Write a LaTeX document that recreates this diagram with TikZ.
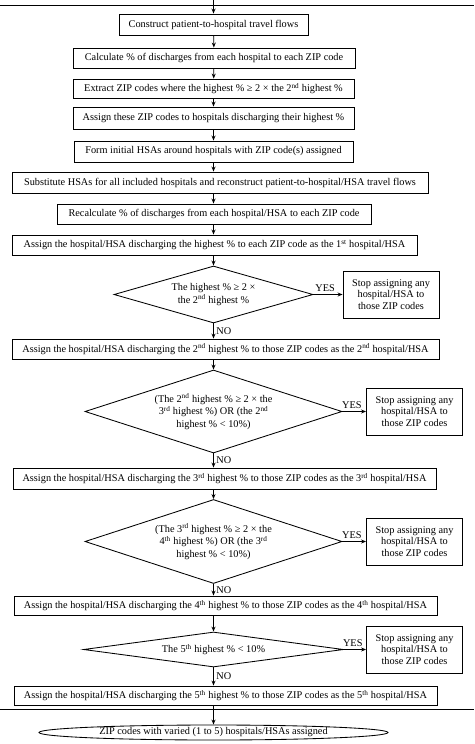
\documentclass[tikz,border=0pt]{standalone}
\usepackage{fontspec}
\setmainfont{Liberation Serif}
\usetikzlibrary{shapes.geometric,arrows.meta}
\begin{document}
\begin{tikzpicture}[x=1pt,y=-1pt,line width=0.85pt,>={Stealth[length=5pt,width=4pt]},
  every node/.append style={font=\fontsize{10.3}{12.5}\selectfont}]
   \tikzset{box/.style 2 args={draw, rectangle, inner sep=0pt, minimum width=#1, minimum height=#2},
     dia/.style 2 args={draw, diamond, align=center, inner sep=0pt, minimum width=#1, minimum height=#2},
     stopbox/.style={draw, align=center, inner sep=0pt, minimum width=96pt, minimum height=47pt, font=\fontsize{10.3}{11.8}\selectfont},
     lab/.style={inner sep=2.5pt}};
\useasboundingbox (0,0) rectangle (474,744);

\coordinate (top) at (213.5,0);
\draw (0,5) -- (474,5);
\draw (0,709) -- (474,709);

\node[box={189pt}{21pt}] (b1) at (213.5,24.5) {Construct patient-to-hospital travel flows};
\node[box={282pt}{20pt}] (b2) at (214,58) {Calculate \% of discharges from each hospital to each ZIP code};
\node[box={281pt}{19pt}] (b3) at (213.5,88.5) {Extract ZIP codes where the highest \% ≥ 2 × the 2\textsuperscript{nd} highest \%};
\node[box={281pt}{22pt}] (b4) at (213.5,118) {Assign these ZIP codes to hospitals discharging their highest \%};
\node[box={279pt}{21pt}] (b5) at (213.5,151.5) {Form initial HSAs around hospitals with ZIP code(s) assigned};
\node[box={416pt}{21pt}] (b6) at (220,182.5) {Substitute HSAs for all included hospitals and reconstruct patient-to-hospital/HSA travel flows};
\node[box={314pt}{20pt}] (b7) at (214,214) {Recalculate \% of discharges from each hospital/HSA to each ZIP code};
\node[box={405pt}{20pt}] (b8) at (214.5,245) {Assign the hospital/HSA discharging the highest \% to each ZIP code as the 1\textsuperscript{st} hospital/HSA};

\node[dia={199pt}{57pt},shape aspect=3] (d1) at (213.5,294.5) {The highest \% ≥ 2 ×\\the 2\textsuperscript{nd} highest \%};
\node[stopbox] (s1) at (391,294.5) {Stop assigning any\\hospital/HSA to\\those ZIP codes};
\node[box={427pt}{20pt}] (b9) at (225.5,349) {Assign the hospital/HSA discharging the 2\textsuperscript{nd} highest \% to those ZIP codes as the 2\textsuperscript{nd} hospital/HSA};

\node[dia={257pt}{83pt},shape aspect=3] (d2) at (213.5,411.5) {(The 2\textsuperscript{nd} highest \% ≥ 2 × the\\3\textsuperscript{rd} highest \%) OR (the 2\textsuperscript{nd}\\highest \% < 10\%)};
\node[stopbox] (s2) at (414.5,411.5) {Stop assigning any\\hospital/HSA to\\those ZIP codes};
\node[box={423pt}{21pt}] (b10) at (224.5,478.5) {Assign the hospital/HSA discharging the 3\textsuperscript{rd} highest \% to those ZIP codes as the 3\textsuperscript{rd} hospital/HSA};

\node[dia={257pt}{84pt},shape aspect=3] (d3) at (213.5,541.5) {(The 3\textsuperscript{rd} highest \% ≥ 2 × the\\4\textsuperscript{th} highest \%) OR (the 3\textsuperscript{rd}\\highest \% < 10\%)};
\node[stopbox] (s3) at (414.5,541.5) {Stop assigning any\\hospital/HSA to\\those ZIP codes};
\node[box={423pt}{19pt}] (b11) at (225.5,605.5) {Assign the hospital/HSA discharging the 4\textsuperscript{th} highest \% to those ZIP codes as the 4\textsuperscript{th} hospital/HSA};

\node[dia={260pt}{35pt},shape aspect=7] (d4) at (213.5,649.5) {The 5\textsuperscript{th} highest \% < 10\%};
\node[stopbox] (s4) at (414.5,649.5) {Stop assigning any\\hospital/HSA to\\those ZIP codes};
\node[box={423pt}{19pt}] (b12) at (225.5,695.5) {Assign the hospital/HSA discharging the 5\textsuperscript{th} highest \% to those ZIP codes as the 5\textsuperscript{th} hospital/HSA};

\node[draw,ellipse,inner sep=0pt,minimum width=349pt,minimum height=15pt] (end) at (213.5,732.5) {ZIP codes with varied (1 to 5) hospitals/HSAs assigned};

% main line
\draw[->] (top) -- (b1);
\draw[->] (b1) -- (b2);
\draw[->] (b2) -- (b3);
\draw[->] (b3) -- (b4);
\draw[->] (b4) -- (b5);
\draw[->] (b5.south -| top) -- (b6.north -| top);
\draw[->] (b6.south -| top) -- (b7.north -| top);
\draw[->] (b7.south -| top) -- (b8.north -| top);
\draw[->] (b8.south -| top) -- (d1);
\draw[->] (d1) -- node[lab,right]{NO} (b9.north -| top);
\draw[->] (b9.south -| top) -- (d2);
\draw[->] (d2) -- node[lab,right]{NO} (b10.north -| top);
\draw[->] (b10.south -| top) -- (d3);
\draw[->] (d3) -- node[lab,right]{NO} (b11.north -| top);
\draw[->] (b11.south -| top) -- (d4);
\draw[->] (d4) -- node[lab,right]{NO} (b12.north -| top);
\draw[->] (b12.south -| top) -- (end);

% yes branches
\draw[->] (d1.east) -- node[lab,above,pos=0.4]{YES} (s1.west);
\draw[->] (d2.east) -- node[lab,above,pos=0.4]{YES} (s2.west);
\draw[->] (d3.east) -- node[lab,above,pos=0.4]{YES} (s3.west);
\draw[->] (d4.east) -- node[lab,above,pos=0.4]{YES} (s4.west);

\end{tikzpicture}
\end{document}
